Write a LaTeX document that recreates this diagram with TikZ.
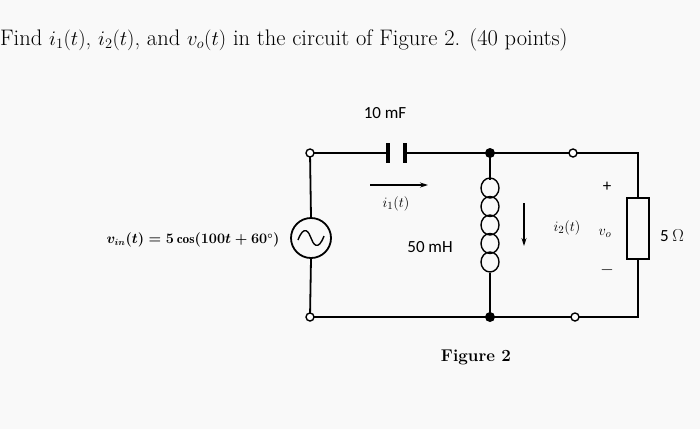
\documentclass[tikz,border=0pt]{standalone}
\usepackage{fontspec}
\newfontfamily\lab{Carlito}
\usetikzlibrary{arrows.meta}
\begin{document}
\begin{tikzpicture}[x=1pt,y=-1pt,
  w/.style={line width=1.8pt},
  oc/.style={circle,draw,line width=1.4pt,fill=white,inner sep=0pt,minimum size=8pt},
  dot/.style={circle,fill=black,inner sep=0pt,minimum size=10pt},
  lbl/.style={font=\lab\fontsize{17}{19}\selectfont},
  ml/.style={font=\fontsize{15}{17}\selectfont},
  ar/.style={line width=1.1pt,-{Stealth[length=8pt,width=5pt]}}]
\useasboundingbox (0,0) rectangle (700,429);
\fill[white!95!gray] (0,0) rectangle (700,429);
\node[anchor=west,font=\fontsize{22.5}{24}\selectfont,inner sep=0pt] (title) at (0,40) {Find $i_1(t)$, $i_2(t)$, and $v_o(t)$ in the circuit of Figure 2. (40 points)};
\coordinate (c1) at (310,153); \coordinate (c2) at (310,317);
\coordinate (n1) at (490,153); \coordinate (n2) at (490,317);
\coordinate (t1) at (573,153); \coordinate (t2) at (575,317);
\coordinate (r1) at (638,153); \coordinate (r2) at (638,317);
\node[circle,draw,line width=1.8pt,minimum size=40pt,inner sep=0pt] (src) at (311,238) {};
\draw[line width=1.4pt] (298,240) .. controls (304,224) and (309,232) .. (311,238) .. controls (313,244) and (318,252) .. (324,236);
\draw[w] (c1) -- (src.north); \draw[w] (src.south) -- (c2);
\draw[w] (c1) -- (388,153); \draw[w] (406,153) -- (n1) -- (t1) -- (r1) -- (638,198);
\draw[line width=3.5pt] (388,143) -- (388,163); \draw[line width=3.5pt] (405,143) -- (405,163);
\draw[w] (c2) -- (n2) -- (t2) -- (r2) -- (638,259);
\node[draw,line width=1.4pt,minimum width=22pt,minimum height=61pt,inner sep=0pt,fill=white!95!gray] (R) at (638,228.5) {};
\draw[w] (n1) -- (490,180); \draw[w] (490,273) -- (n2);
\foreach \k in {0,...,4} \draw[line width=1.4pt] (490,188+18.5*\k) ellipse (9 and 10);
\node[oc] at (c1) {}; \node[oc] at (c2) {}; \node[oc] at (t1) {}; \node[oc] at (t2) {};
\node[dot] at (n1) {}; \node[dot] at (n2) {};
\draw[ar] (370,185) -- (428,185);
\draw[ar] (524,203) -- (524,246);
\node[lbl] at (385,113) {10 mF};
\node[lbl] at (430,247) {50 mH};
\node[lbl] at (672,236) {5 $\Omega$};
\node[lbl] at (607,187) {+};
\node[lbl] at (607,270) {$-$};
\node[ml] at (605,233) {$v_o$};
\node[ml] at (396,204) {$i_1(t)$};
\node[ml] at (567,228) {$i_2(t)$};
\node[anchor=east,font=\boldmath\fontsize{13.3}{15}\selectfont] at (283,240) {$v_{in}(t)=5\cos(100t+60^\circ)$};
\node[font=\bfseries\fontsize{17}{19}\selectfont] at (476,357) {Figure 2};
\end{tikzpicture}
\end{document}
